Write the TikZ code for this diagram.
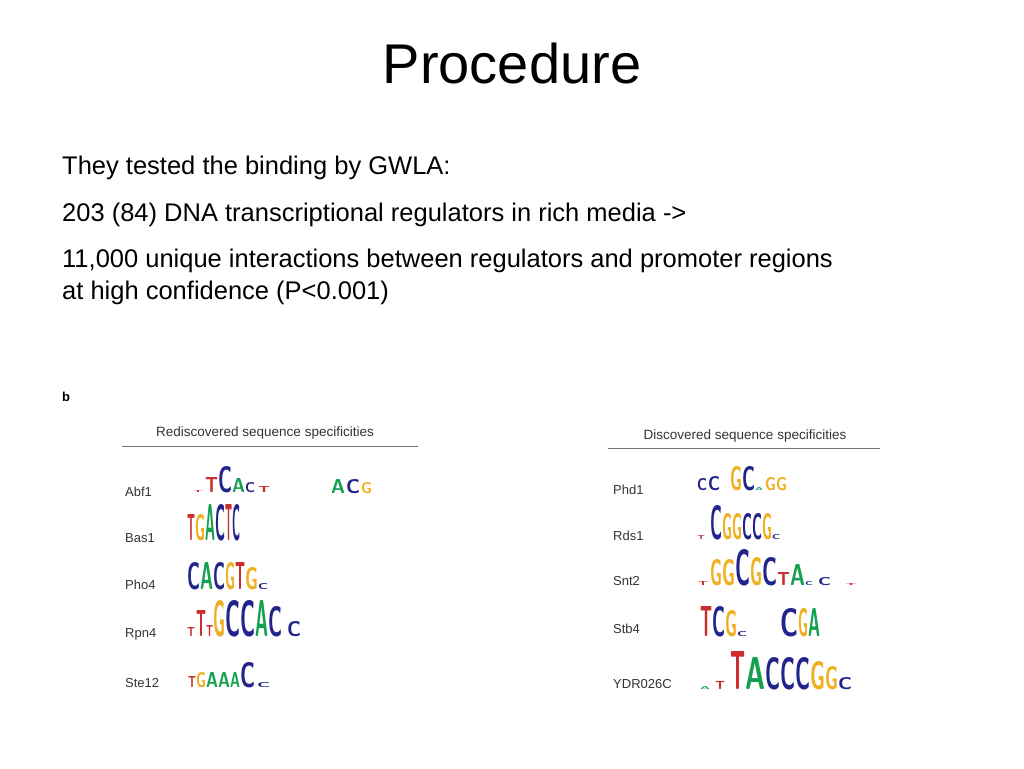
\documentclass[tikz,border=0pt]{standalone}
\usepackage{fontspec}
\setmainfont{Liberation Sans}
\usepackage{graphicx}
\definecolor{cA}{RGB}{20,160,80}
\definecolor{cC}{RGB}{35,35,140}
\definecolor{cG}{RGB}{240,175,30}
\definecolor{cT}{RGB}{205,45,45}
\newcommand{\logolt}[5]{\node[anchor=south west,inner sep=0pt,text=c#3] at (#1,#2) {\resizebox{#4pt}{#5pt}{\sffamily\bfseries #3}};}
\begin{document}
\begin{tikzpicture}[x=1pt,y=-1pt,
  body/.style={anchor=base west,inner sep=0pt,font=\fontsize{25.5}{30}\selectfont},
  lab/.style={anchor=base west,inner sep=0pt,font=\fontsize{13}{15}\selectfont,text=black!80},
  hdr/.style={anchor=base,inner sep=0pt,font=\fontsize{13.5}{15}\selectfont,text=black!80},
  rule/.style={draw=black!55,line width=0.8pt}]
\useasboundingbox (0,0) rectangle (1024,768);
\node[anchor=base,inner sep=0pt,font=\fontsize{56}{60}\selectfont] (title) at (512,83) {Procedure};
\node[body] (l1) at (62,174) {They tested the binding by GWLA:};
\node[body] (l2) at (62,221) {203 (84) DNA transcriptional regulators in rich media -{}>};
\node[body] (l3) at (62,267) {11,000 unique interactions between regulators and promoter regions};
\node[body] (l4) at (62,299) {at high confidence (P<0.001)};
\node[anchor=base west,inner sep=0pt,font=\bfseries\fontsize{13}{15}\selectfont] (b) at (62,401) {b};
\node[hdr] (h1) at (265,436) {Rediscovered sequence specificities};
\draw[rule] (122,446) -- (418,446);
\node[hdr] (h2) at (745,439) {Discovered sequence specificities};
\draw[rule] (608,448) -- (880,448);
\node[lab] (r1) at (125,496) {Abf1};
\node[lab] (r2) at (125,542) {Bas1};
\node[lab] (r3) at (125,589) {Pho4};
\node[lab] (r4) at (125,637) {Rpn4};
\node[lab] (r5) at (125,687) {Ste12};
\node[lab] (s1) at (613,494) {Phd1};
\node[lab] (s2) at (613,540) {Rds1};
\node[lab] (s3) at (613,585) {Snt2};
\node[lab] (s4) at (613,633) {Stb4};
\node[lab] (s5) at (613,688) {YDR026C};
% Abf1
\logolt{193}{493}{T}{10}{2}
\logolt{205}{493}{T}{13}{15}
\logolt{218}{493}{C}{14}{26}
\logolt{232}{493}{A}{13}{14}
\logolt{245}{493}{C}{10}{10}
\logolt{258}{493}{T}{12}{6}
\logolt{331}{494}{A}{14}{14}
\logolt{346}{494}{C}{14}{14}
\logolt{361}{494}{G}{11}{11}
% Bas1
\logolt{187}{541}{T}{8}{26}
\logolt{195}{541}{G}{10}{26}
\logolt{205}{541}{A}{10}{36}
\logolt{215}{541}{C}{10}{36}
\logolt{225}{541}{T}{7}{36}
\logolt{232}{541}{C}{8}{36}
% Pho4
\logolt{187}{590}{C}{13}{27}
\logolt{200}{590}{A}{13}{27}
\logolt{213}{590}{C}{12}{27}
\logolt{225}{590}{G}{10}{27}
\logolt{235}{590}{T}{10}{27}
\logolt{245}{590}{G}{13}{22}
\logolt{258}{590}{C}{10}{6}
% Rpn4
\logolt{187}{637}{T}{8}{9}
\logolt{196}{637}{T}{10}{26}
\logolt{206}{637}{T}{7}{11}
\logolt{213}{637}{G}{12}{36}
\logolt{225}{637}{C}{15}{36}
\logolt{240}{637}{C}{15}{36}
\logolt{255}{637}{A}{13}{36}
\logolt{268}{637}{C}{14}{30}
\logolt{287}{637}{C}{14}{15}
% Ste12
\logolt{188}{688}{T}{8}{11}
\logolt{196}{688}{G}{10}{15}
\logolt{206}{688}{A}{12}{15}
\logolt{218}{688}{A}{12}{15}
\logolt{230}{688}{A}{10}{15}
\logolt{240}{688}{C}{15}{25}
\logolt{257}{688}{C}{13}{5}
% Phd1
\logolt{697}{491}{C}{10}{12}
\logolt{708}{491}{C}{12}{14}
\logolt{730}{491}{G}{12}{24}
\logolt{742}{491}{C}{13}{24}
\logolt{755}{491}{A}{8}{3}
\logolt{765}{491}{G}{11}{13}
\logolt{776}{491}{G}{11}{13}
% Rds1
\logolt{697}{540}{T}{8}{4}
\logolt{710}{540}{C}{12}{34}
\logolt{722}{540}{G}{10}{26}
\logolt{732}{540}{G}{10}{26}
\logolt{742}{540}{C}{10}{26}
\logolt{752}{540}{C}{10}{26}
\logolt{762}{540}{G}{10}{26}
\logolt{772}{540}{C}{8}{5}
% Snt2
\logolt{698}{586}{T}{10}{4}
\logolt{710}{586}{G}{12}{26}
\logolt{722}{586}{G}{13}{26}
\logolt{735}{586}{C}{15}{36}
\logolt{750}{586}{G}{12}{28}
\logolt{762}{586}{C}{15}{28}
\logolt{777}{586}{T}{13}{13}
\logolt{790}{586}{A}{15}{21}
\logolt{805}{586}{C}{8}{4}
\logolt{818}{586}{C}{13}{8}
\logolt{845}{586}{T}{12}{2}
% Stb4
\logolt{700}{637}{T}{12}{30}
\logolt{712}{637}{C}{13}{30}
\logolt{725}{637}{G}{12}{26}
\logolt{737}{637}{C}{10}{5}
\logolt{780}{637}{C}{18}{28}
\logolt{798}{637}{G}{10}{28}
\logolt{808}{637}{A}{12}{28}
% YDR026C
\logolt{700}{690}{A}{10}{3}
\logolt{715}{690}{T}{10}{8}
\logolt{730}{690}{T}{15}{38}
\logolt{745}{690}{A}{20}{32}
\logolt{765}{690}{C}{15}{32}
\logolt{780}{690}{C}{15}{32}
\logolt{795}{690}{C}{15}{32}
\logolt{810}{690}{G}{15}{28}
\logolt{825}{690}{G}{13}{23}
\logolt{838}{690}{C}{14}{12}
\end{tikzpicture}
\end{document}
